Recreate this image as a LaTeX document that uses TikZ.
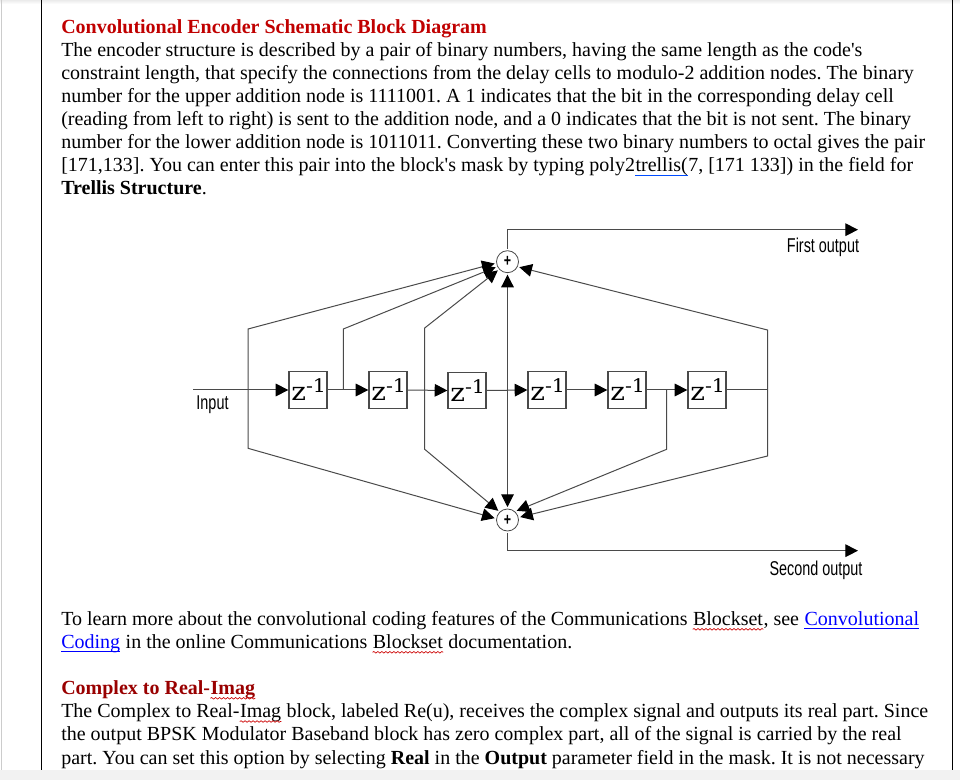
\documentclass[tikz,border=0pt]{standalone}
\usepackage{fontspec}
\defaultfontfeatures[\rmfamily]{}
\setmainfont{Liberation Serif}
\newfontfamily\labelfont[FakeStretch=0.72]{Liberation Sans}
\newfontfamily\cellfont[FakeStretch=1.1]{DejaVu Serif}
\usepackage{tikz}
\usetikzlibrary{arrows.meta, positioning, decorations.pathmorphing}
\definecolor{titlered}{HTML}{C00000}
\definecolor{headred}{HTML}{990000}
\definecolor{linkblue}{HTML}{0000FF}
\definecolor{wirecol}{HTML}{4A4A4A}
\definecolor{barcol}{HTML}{F2F2F2}
\newcommand{\zinv}{\hspace{1pt}{\fontsize{19}{19}\selectfont z}\raisebox{6pt}{\fontsize{14}{14}\selectfont -1}}

\begin{document}
\begin{tikzpicture}[x=0.75pt, y=-0.75pt,
        bodyline/.style={anchor=base west, inner sep=0pt, font=\fontsize{15}{18}\selectfont\frenchspacing},
        titleline/.style={bodyline, font=\fontsize{15}{18}\selectfont\bfseries},
        spellmark/.style={draw=red!80!black, line width=0.5pt, decorate, decoration={snake, amplitude=0.6pt, segment length=3pt}},
        linkmark/.style={draw=linkblue, line width=0.75pt},
        frameline/.style={draw=black, line width=1pt},
        delaycell/.style={draw=wirecol, line width=0.95pt, fill=white, minimum width=28.5pt, minimum height=27.5pt, inner sep=0pt, font=\cellfont},
        adder/.style={circle, draw=wirecol, line width=0.6pt, minimum size=16.5pt, inner sep=0pt, outer sep=1.5pt, font=\fontsize{13}{13}\selectfont\labelfont\bfseries},
        wire/.style={draw=wirecol, line width=0.75pt},
        sigarrow/.style={wire, ->, >={Triangle[length=9.5pt, width=9.5pt, color=black]}},
        portlabel/.style={inner sep=0pt, font=\fontsize{15}{15}\selectfont\labelfont}]
        \useasboundingbox (0,0) rectangle (960,780);

        % Cornice della pagina
        \shade[top color=black!8, bottom color=white] (0,0) rectangle (960,4);
        \draw[draw=black!20, line width=1pt] (1.5,0) -- (1.5,770);
        \draw[frameline] (41.5,0) -- (41.5,770);
        \draw[frameline] (952.7,0) -- (952.7,770);
        \fill[barcol] (0,770) rectangle (960,780);

        % Testo superiore
        \node[titleline, titlered] (title) at (61,34) {Convolutional Encoder Schematic Block Diagram};
        \node[bodyline] (para1) at (61,56.5) {The encoder structure is described by a pair of binary numbers, having the same length as the code's};
        \node[bodyline] (para2) at (61,79.5) {constraint length, that specify the connections from the delay cells to modulo-2 addition nodes. The binary};
        \node[bodyline] (para3) at (61,102.5) {number for the upper addition node is 1111001. A 1 indicates that the bit in the corresponding delay cell};
        \node[bodyline] (para4) at (61,125.5) {(reading from left to right) is sent to the addition node, and a 0 indicates that the bit is not sent. The binary};
        \node[bodyline] (para5) at (61,148.5) {number for the lower addition node is 1011011. Converting these two binary numbers to octal gives the pair};
        \node[bodyline] (para6) at (61,172) {[171,133]. You can enter this pair into the block's mask by typing poly2};
        \node[bodyline, base right=0pt of para6] (polyword) {trellis(};
        \node[bodyline, base right=0pt of polyword] (para6b) {7, [171 133]) in the field for};
        \node[bodyline] (para7) at (61,195) {\textbf{Trellis Structure}.};
        \draw[linkmark, draw=blue!70!cyan, line width=1pt] ([yshift=-2.5pt]polyword.base west) -- ([yshift=-2.5pt]polyword.base east);

        % Celle di ritardo
        \node[delaycell] (cell1) at (308,390) {\zinv};
        \node[delaycell] (cell2) at (388,390) {\zinv};
        \node[delaycell] (cell3) at (467,390.5) {\zinv};
        \node[delaycell] (cell4) at (547,390) {\zinv};
        \node[delaycell] (cell5) at (627,390) {\zinv};
        \node[delaycell] (cell6) at (707,390) {\zinv};

        % Nodi di addizione
        \node[adder] (addup) at (507.5,261.7) {+};
        \node[adder] (addlow) at (507.5,520) {+};

        % Prese e pieghe
        \coordinate (inport) at (193,390);
        \coordinate (tapa) at (248,390);
        \coordinate (tapb) at (343.3,390);
        \coordinate (tapc) at (424.7,390);
        \coordinate (tapd) at (507.5,390);
        \coordinate (tape) at (666.7,390);
        \coordinate (tapf) at (767.5,390);
        \coordinate (upa) at (248,329);
        \coordinate (upb) at (343.3,329);
        \coordinate (upc) at (424.7,328);
        \coordinate (upf) at (767.5,330);
        \coordinate (lowa) at (248,448.3);
        \coordinate (lowc) at (424.7,449.3);
        \coordinate (lowe) at (666.7,449.3);
        \coordinate (lowf) at (767.5,456);
        \coordinate (firstout) at (858,229.7);
        \coordinate (secondout) at (858,550.7);

        % Catena
        \draw[sigarrow] (inport) -- (cell1.west);
        \draw[sigarrow] (cell1.east) -- (cell2.west);
        \draw[sigarrow] (cell2.east) -- (cell3.west);
        \draw[sigarrow] (cell3.east) -- (cell4.west);
        \draw[sigarrow] (cell4.east) -- (cell5.west);
        \draw[sigarrow] (cell5.east) -- (cell6.west);
        \draw[wire] (cell6.east) -- (tapf);

        % Frecce verso il nodo superiore
        \draw[sigarrow] (tapa) -- (upa) -- (addup.188);
        \draw[sigarrow] (tapb) -- (upb) -- (addup.205);
        \draw[sigarrow] (tapc) -- (upc) -- (addup.222);
        \draw[sigarrow] (tapd) -- (addup.south);
        \draw[sigarrow] (tapf) -- (upf) -- (addup.335);

        % Frecce verso il nodo inferiore
        \draw[sigarrow] (tapa) -- (lowa) -- (addlow.172);
        \draw[sigarrow] (tapc) -- (lowc) -- (addlow.135);
        \draw[sigarrow] (tapd) -- (addlow.north);
        \draw[sigarrow] (tape) -- (lowe) -- (addlow.45);
        \draw[sigarrow] (tapf) -- (lowf) -- (addlow.13);

        % Uscite
        \draw[sigarrow] (addup.north) |- (firstout);
        \draw[sigarrow] (addlow.south) |- (secondout);
        \node[portlabel] (inlabel) at (212.5,404.5) {Input};
        \node[portlabel] (firstlabel) at (823,247.5) {First output};
        \node[portlabel] (secondlabel) at (816,570.5) {Second output};

        % Testo inferiore
        \node[bodyline] (more1) at (61,625.3) {To learn more about the convolutional coding features of the Communications};
        \node[bodyline, base right=3.75pt of more1] (blockone) {Blockset};
        \node[bodyline, base right=0pt of blockone] (moresee) {, see};
        \node[bodyline, base right=3.75pt of moresee, text=linkblue] (convlink) {Convolutional};
        \node[bodyline, text=linkblue] (codelink) at (61,648.3) {Coding};
        \node[bodyline, base right=3.75pt of codelink] (more2) {in the online Communications};
        \node[bodyline, base right=3.75pt of more2] (blocktwo) {Blockset};
        \node[bodyline, base right=3.75pt of blocktwo] (more3) {documentation.};
        \draw[linkmark] ([yshift=-2.2pt]convlink.base west) -- ([yshift=-2.2pt]convlink.base east);
        \draw[linkmark] ([yshift=-2.2pt]codelink.base west) -- ([yshift=-2.2pt]codelink.base east);
        \draw[spellmark] ([yshift=-3pt]blockone.base west) -- ([yshift=-3pt]blockone.base east);
        \draw[spellmark] ([yshift=-3pt]blocktwo.base west) -- ([yshift=-3pt]blocktwo.base east);

        \node[titleline, headred] (head1) at (61,694.3) {Complex to Real-};
        \node[titleline, headred, base right=0pt of head1] (headimag) {Imag};
        \node[bodyline] (real1) at (61,717.5) {The Complex to Real-};
        \node[bodyline, base right=0pt of real1] (realimag) {Imag};
        \node[bodyline, base right=3.75pt of realimag] (real1b) {block, labeled Re(u), receives the complex signal and outputs its real part. Since};
        \node[bodyline] (real2) at (61,740.5) {the output BPSK Modulator Baseband block has zero complex part, all of the signal is carried by the real};
        \node[bodyline] (real3) at (61,764) {part. You can set this option by selecting \textbf{Real} in the \textbf{Output} parameter field in the mask. It is not necessary};
        \draw[spellmark] ([yshift=-3pt]headimag.base west) -- ([yshift=-3pt]headimag.base east);
        \draw[spellmark] ([yshift=-3pt]realimag.base west) -- ([yshift=-3pt]realimag.base east);
    \end{tikzpicture}
\end{document}
